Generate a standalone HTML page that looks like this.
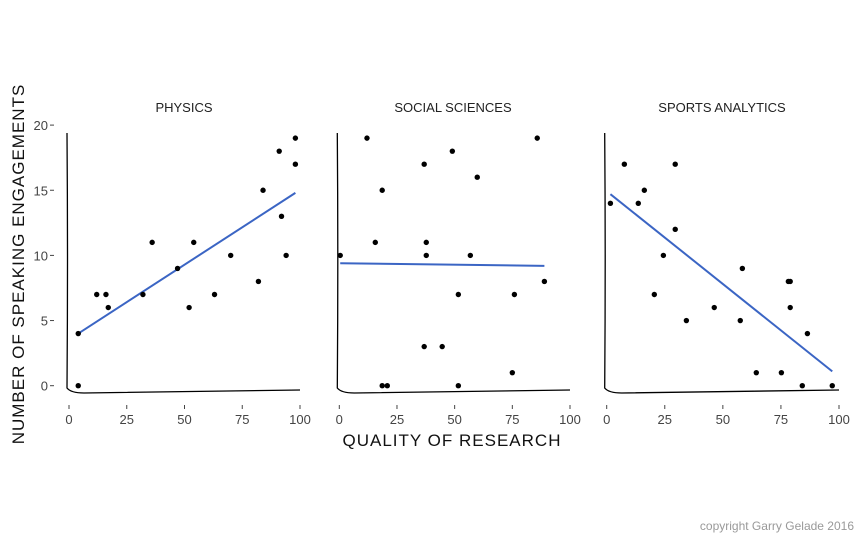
<!DOCTYPE html>
<html><head><meta charset="utf-8"><style>
html,body{margin:0;padding:0;background:#fff;}
svg{display:block;font-family:"Liberation Sans",sans-serif;}
</style></head><body>
<svg id="chart" width="861" height="538" viewBox="0 0 861 538">
<text x="184" y="112" font-size="13" text-anchor="middle" fill="#222">PHYSICS</text>
<text x="453" y="112" font-size="13" text-anchor="middle" fill="#222">SOCIAL SCIENCES</text>
<text x="722" y="112" font-size="13" text-anchor="middle" fill="#222">SPORTS ANALYTICS</text>
<text x="452" y="446" font-size="17" text-anchor="middle" fill="#111" letter-spacing="1">QUALITY OF RESEARCH</text>
<text x="0" y="0" font-size="17" text-anchor="middle" fill="#111" letter-spacing="1" transform="translate(24,264) rotate(-90)">NUMBER OF SPEAKING ENGAGEMENTS</text>
<text x="854" y="530" font-size="12" text-anchor="end" fill="#999">copyright Garry Gelade 2016</text>
</svg>
<script>
const yTicks = [0, 5, 10, 15, 20];
const xTicks = [0, 25, 50, 75, 100];
const physX = [4,4,12,16,17,32,36,47,52,54,63,70,82,84,91,92,94,98,98];
const physY = [4,0,7,7,6,7,11,9,6,11,7,10,8,15,18,13,10,19,17];
const physFit = [[4,4.0],[98,14.8]];
const socX = [0.4,12,15.6,18.6,18.6,20.8,36.8,36.8,37.7,37.7,44.6,49,51.6,51.6,56.8,59.8,75,75.9,85.8,88.9];
const socY = [10,19,11,15,0,0,17,3,11,10,3,18,7,0,10,16,1,7,19,8];
const socFit = [[0.4,9.4],[88.9,9.2]];
const sportX = [1.6,7.6,13.6,16.2,20.5,24.4,29.5,29.5,34.3,46.3,57.5,58.4,64.4,75.2,78.2,79,79,84.2,86.4,97.1];
const sportY = [14,17,14,15,7,10,17,12,5,6,5,9,1,1,8,8,6,0,4,0];
const sportFit = [[1.6,14.7],[97.1,1.1]];

const NS = "http://www.w3.org/2000/svg";
const svg = document.getElementById("chart");
const panels = [
  {name:"physics", x0:69, x1:300, xs:physX, ys:physY, fit:physFit, yLabels:true},
  {name:"social-sciences", x0:339.3, x1:570, xs:socX, ys:socY, fit:socFit, yLabels:false},
  {name:"sports-analytics", x0:606.7, x1:839, xs:sportX, ys:sportY, fit:sportFit, yLabels:false}
];
const yPix = v => 385.7 - v * 13.03;
function mk(tag, attrs){ const e=document.createElementNS(NS,tag); for(const k in attrs) e.setAttribute(k,attrs[k]); svg.appendChild(e); return e; }

panels.forEach(p => {
  const xPix = v => p.x0 + (p.x1 - p.x0) * v / 100;
  const g = document.createElementNS(NS,"g");
  
  
  svg.appendChild(g);
  const ax = mk("path",{d:`M${p.x0-2} 133 Q${p.x0-1} 260 ${p.x0-2} 388 Q${p.x0+2} 393 ${p.x0+15} 393 L${p.x1} 390`, fill:"none", stroke:"#000", "stroke-width":1.3});
  
  
  xTicks.forEach(t => {
    const x = xPix(t);
    const tk = mk("line",{x1:x,x2:x,y1:405,y2:409,stroke:"#444","stroke-width":1});
    
    
    const lb = mk("text",{x:x,y:424,"font-size":13,"text-anchor":"middle",fill:"#444"});
    lb.textContent = t;
    
    
  });
  if (p.yLabels) {
    yTicks.forEach(t => {
      const y = yPix(t);
      const tk = mk("line",{x1:50,x2:54,y1:y,y2:y,stroke:"#444","stroke-width":1});
      
      
      const lb = mk("text",{x:48,y:y+5,"font-size":13,"text-anchor":"end",fill:"#444"});
      lb.textContent = t;
      
      
    });
  }
  const ln = mk("line",{x1:xPix(p.fit[0][0]),y1:yPix(p.fit[0][1]),x2:xPix(p.fit[1][0]),y2:yPix(p.fit[1][1]),stroke:"#3b65c4","stroke-width":2});
  
  
  p.xs.forEach((v,i) => {
    const c = mk("circle",{cx:xPix(v),cy:yPix(p.ys[i]),r:2.7,fill:"#000"});
    
    
  });
});
</script>
</body></html>
